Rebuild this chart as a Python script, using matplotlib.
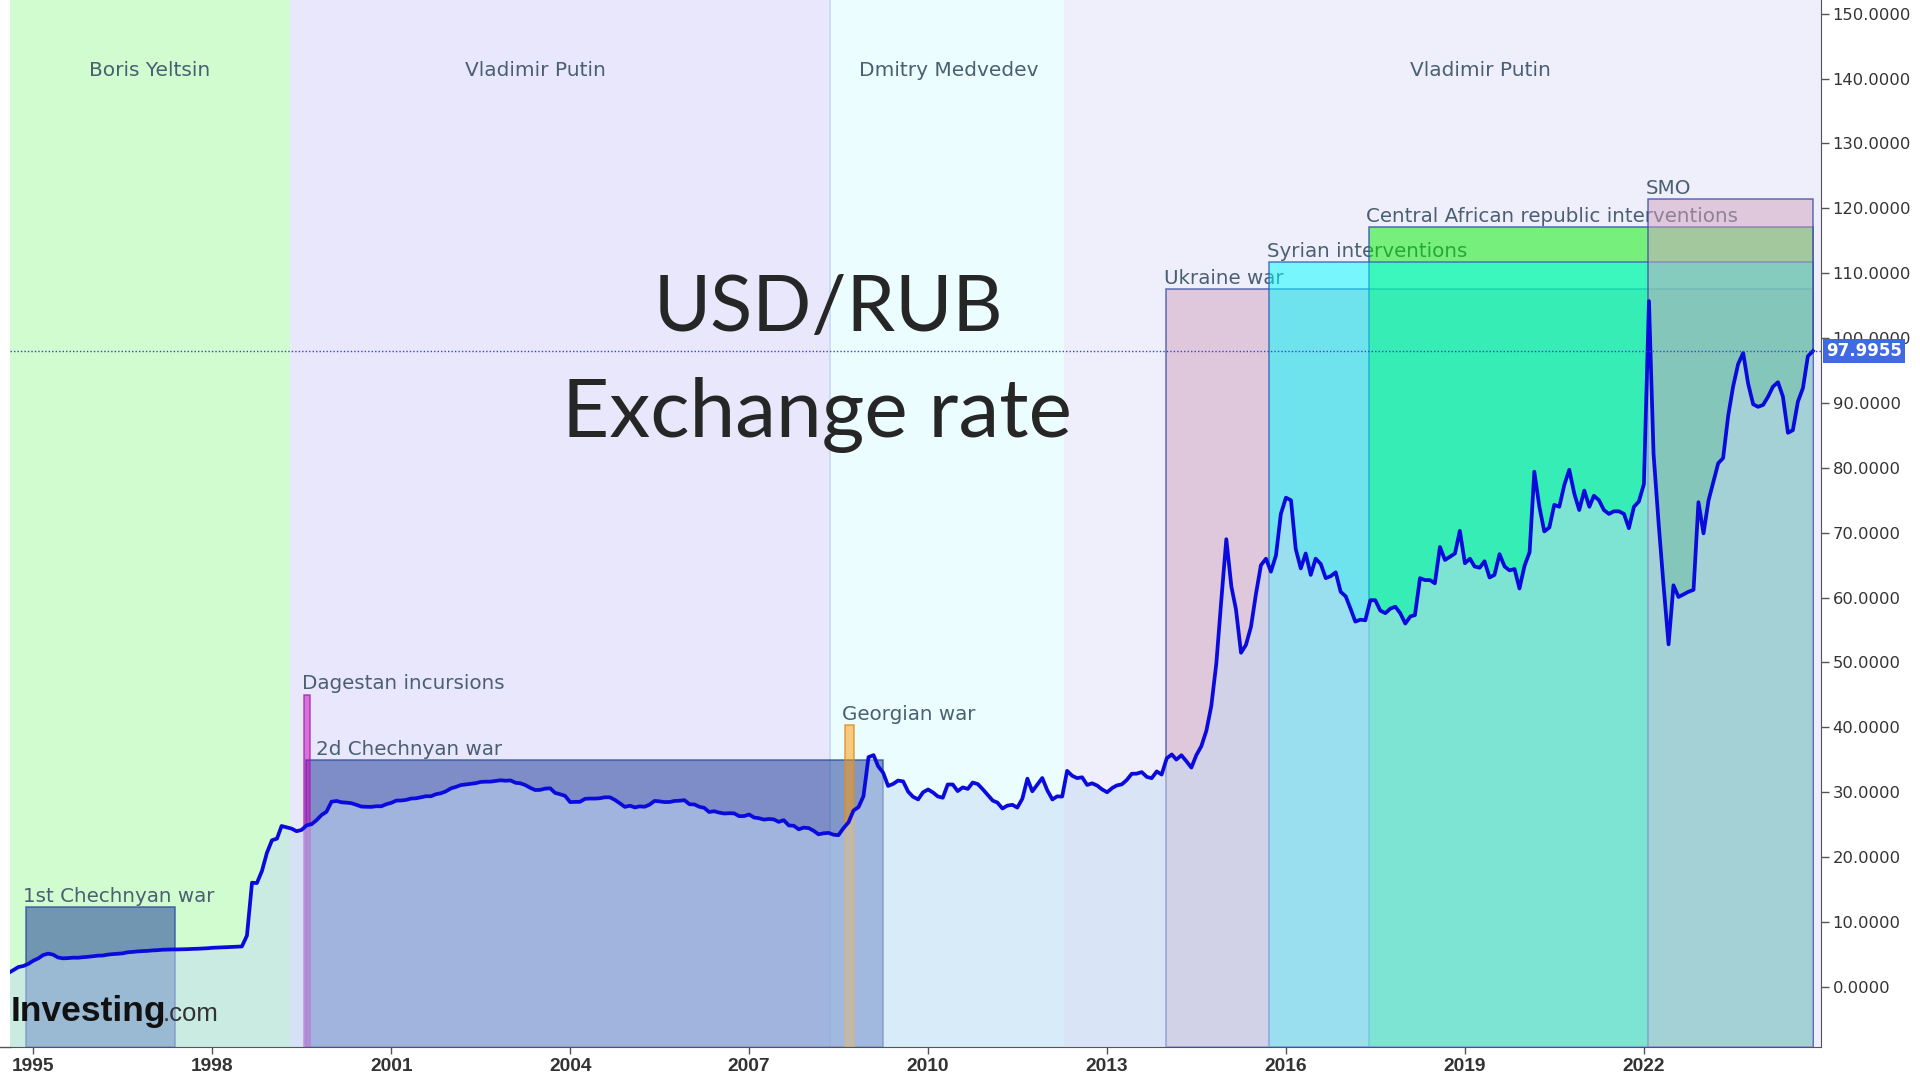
import pandas as pd
import matplotlib
matplotlib.use("Agg")
import matplotlib.pyplot as plt
import matplotlib.dates as mdates
from matplotlib.patches import Rectangle
from matplotlib.transforms import blended_transform_factory

# monthly USD/RUB closes, first value = Aug 1994
closes_1990s = [
    2.15, 2.60, 3.06, 3.23, 3.55,
    4.05, 4.41, 4.90, 5.13, 4.99, 4.54, 4.41, 4.44, 4.51, 4.50, 4.58, 4.64,
    4.73, 4.82, 4.84, 4.98, 5.06, 5.11, 5.18, 5.34, 5.40, 5.48, 5.52, 5.56,
    5.63, 5.67, 5.73, 5.76, 5.78, 5.78, 5.80, 5.82, 5.86, 5.88, 5.92, 5.96,
    6.03, 6.07, 6.11, 6.13, 6.16, 6.20, 6.24, 7.91, 16.06, 16.01, 17.88, 20.65,
    22.60, 22.86, 24.80, 24.60, 24.40, 24.00, 24.19, 24.90, 25.08, 25.70, 26.50, 27.00,
]
closes_2000s = [
    28.55, 28.66, 28.46, 28.40, 28.32, 28.07, 27.80, 27.76, 27.75, 27.85, 27.84, 28.16,
    28.37, 28.72, 28.73, 28.82, 29.03, 29.07, 29.23, 29.39, 29.39, 29.70, 29.85, 30.14,
    30.60, 30.83, 31.10, 31.20, 31.30, 31.40, 31.59, 31.63, 31.64, 31.74, 31.85, 31.78,
    31.82, 31.46, 31.39, 31.12, 30.69, 30.35, 30.37, 30.56, 30.61, 29.90, 29.69, 29.45,
    28.49, 28.52, 28.53, 28.99, 29.03, 29.03, 29.08, 29.23, 29.22, 28.82, 28.29, 27.75,
    27.93, 27.66, 27.83, 27.77, 28.09, 28.67, 28.60, 28.49, 28.50, 28.66, 28.70, 28.78,
    28.15, 28.12, 27.77, 27.60, 26.96, 27.08, 26.87, 26.73, 26.77, 26.75, 26.32, 26.33,
    26.57, 26.10, 26.01, 25.79, 25.88, 25.82, 25.44, 25.70, 24.89, 24.84, 24.29, 24.55,
    24.48, 24.05, 23.52, 23.68, 23.74, 23.46, 23.39, 24.48, 25.38, 27.18, 27.72, 29.38,
    35.42, 35.72, 34.01, 33.00, 30.98, 31.29, 31.80, 31.68, 30.09, 29.30, 28.90, 30.00,
]
closes_2010s = [
    30.43, 29.95, 29.36, 29.16, 31.20, 31.20, 30.18, 30.75, 30.52, 31.50, 31.27, 30.48,
    29.60, 28.71, 28.42, 27.50, 27.94, 28.07, 27.64, 29.00, 32.10, 30.15, 31.18, 32.20,
    30.29, 28.89, 29.37, 29.34, 33.30, 32.55, 32.18, 32.31, 31.13, 31.38, 31.04, 30.45,
    30.00, 30.65, 31.05, 31.22, 31.88, 32.85, 32.87, 33.11, 32.37, 32.17, 33.21, 32.73,
    35.23, 35.83, 35.04, 35.70, 34.80, 33.80, 35.70, 37.10, 39.50, 43.30, 49.90, 59.50,
    69.00, 61.70, 58.20, 51.50, 52.70, 55.50, 60.50, 65.00, 66.00, 64.00, 66.50, 72.90,
    75.40, 75.00, 67.50, 64.50, 66.80, 63.50, 66.00, 65.20, 63.00, 63.30, 63.90, 60.90,
    60.20, 58.20, 56.30, 56.60, 56.50, 59.60, 59.60, 58.00, 57.60, 58.30, 58.60, 57.60,
    56.00, 57.10, 57.30, 63.00, 62.70, 62.70, 62.20, 67.80, 65.80, 66.30, 66.80, 70.30,
    65.30, 66.00, 64.80, 64.60, 65.60, 63.10, 63.50, 66.70, 64.80, 64.20, 64.40, 61.40,
]
closes_2020s = [
    64.90, 67.00, 79.40, 74.00, 70.20, 70.80, 74.30, 74.00, 77.40, 79.70, 76.00, 73.50,
    76.50, 74.00, 75.70, 75.00, 73.50, 72.90, 73.30, 73.30, 72.90, 70.70, 74.00, 74.80,
    77.50, 105.70, 82.20, 71.50, 62.00, 52.80, 61.90, 60.10, 60.50, 60.90, 61.20, 74.70,
    69.90, 75.00, 77.70, 80.70, 81.50, 88.00, 92.50, 96.00, 97.70, 93.00, 89.80, 89.40,
    89.70, 91.00, 92.50, 93.20, 91.00, 85.40, 85.80, 90.20, 92.30, 97.20, 97.9955,
]
closes = closes_1990s + closes_2000s + closes_2010s + closes_2020s
dates = pd.date_range("1994-08-01", periods=len(closes), freq="MS")

presidents = ["Boris Yeltsin", "Vladimir Putin", "Dmitry Medvedev", "Vladimir Putin"]
term_starts = ["1994-08-11", "1999-04-22", "2008-05-10", "2012-04-13"]
term_ends = ["1999-04-22", "2008-05-10", "2012-04-13", "2024-12-20"]
term_label_at = ["1996-12-15", "2003-06-05", "2010-05-08", "2019-04-05"]
term_colors = ["#d0fcd0", "#e9e7fb", "#ebfdfe", "#efeefb"]

events = ["1st Chechnyan war", "2d Chechnyan war", "Dagestan incursions",
          "Georgian war", "Ukraine war", "Central African republic interventions",
          "Syrian interventions", "SMO"]
event_starts = ["1994-11-17", "1999-07-31", "1999-07-18", "2008-08-08",
                "2013-12-28", "2017-05-22", "2015-09-20", "2022-01-28"]
event_ends = ["1997-05-20", "2009-03-28", "1999-08-24", "2008-10-05",
              "2024-11-01", "2024-11-01", "2024-11-01", "2024-11-01"]
event_tops = [12.3, 34.9, 45.0, 40.3, 107.5, 117.1, 111.7, 121.4]
event_colors = ["#143296", "#143296", "#c000c0", "#ff9900",
                "#d1a2bf", "#00f000", "#00ffff", "#d1a2bf"]
event_edges = ["#2a4a9a", "#2a4a9a", "#b020a8", "#e08a20",
               "#3b4fa8", "#2850a0", "#3060b0", "#3b4fa8"]

y_bottom, y_top = -9.25, 152.1
label_color = "#4a6072"

fig = plt.figure(figsize=(19.2, 10.8), dpi=100)
ax = fig.add_axes([0.0052, 0.0306, 0.9432, 0.9694])
num = mdates.date2num

# president terms
for name, s, e, lx, c in zip(presidents, term_starts, term_ends, term_label_at, term_colors):
    ax.axvspan(pd.Timestamp(s), pd.Timestamp(e), color=c, lw=0, zorder=0)
    ax.text(pd.Timestamp(lx), 141.3, name, ha="center", va="center",
            fontsize=14.5, color=label_color, zorder=1)
ax.axvline(pd.Timestamp(term_starts[2]), color="#c4daf6", lw=1.2, zorder=0.5)

# event boxes, labels sit underneath the boxes
for i, (name, s, e, top, c, ec) in enumerate(zip(events, event_starts, event_ends,
                                                event_tops, event_colors, event_edges)):
    x0, x1 = num(pd.Timestamp(s)), num(pd.Timestamp(e))
    ax.add_patch(Rectangle((x0, y_bottom), x1 - x0, top - y_bottom, facecolor=c,
                           alpha=0.5, edgecolor="none", zorder=2 + i * 0.1))
    ax.add_patch(Rectangle((x0, y_bottom), x1 - x0, top - y_bottom, facecolor="none",
                           edgecolor=ec, lw=1.1, alpha=0.8, zorder=2 + i * 0.1))
    dx = 7 if name == "2d Chechnyan war" else -1.8
    ax.annotate(name, (x0, top), xytext=(dx, 4), textcoords="offset points",
                ha="left", va="baseline", fontsize=14.3, color=label_color, zorder=1.5)

# price area and line
ax.fill_between(dates, closes, y_bottom, color="#c4dcf3", alpha=0.5, lw=0, zorder=3)
ax.plot(dates, closes, color="#0a0adc", lw=2.7, zorder=4, solid_joinstyle="round")

last = closes[-1]
ax.axhline(last, color="#3344cc", lw=1, ls=(0, (1, 1.5)), zorder=6)
trans = blended_transform_factory(ax.transAxes, ax.transData)
ax.text(1.0029, last, f"{last:.4f}", transform=trans, ha="left", va="center",
        color="white", fontsize=12, fontweight="bold", clip_on=False, zorder=10,
        bbox=dict(boxstyle="square,pad=0.2", fc="#4169e1", ec="none"))

# title
ax.text(0.4517, 0.704, "USD/RUB", transform=ax.transAxes, ha="center", va="center",
        fontsize=56, family="Lato", color="#262626", zorder=7)
ax.text(0.4456, 0.604, "Exchange rate", transform=ax.transAxes, ha="center",
        va="center", fontsize=59, family="Lato", color="#262626", zorder=7)

# axes
ax.set_xlim(pd.Timestamp("1994-08-11"), pd.Timestamp("2024-12-20"))
ax.set_ylim(y_bottom, y_top)
years = list(range(1995, 2023, 3))
ax.set_xticks([pd.Timestamp(f"{y}-01-01") for y in years])
ax.set_xticklabels([str(y) for y in years], fontweight="bold", family="Liberation Sans")
ax.yaxis.tick_right()
ax.set_yticks(range(0, 151, 10))
ax.set_yticklabels([f"{v:.4f}" for v in range(0, 151, 10)])
ax.tick_params(axis="x", direction="out", length=5, width=1, colors="#555555",
               labelcolor="#333333", labelsize=13.8, pad=3)
ax.tick_params(axis="y", direction="out", length=6, width=1, colors="#555555",
               labelcolor="#333333", labelsize=11.8, pad=2.5)
for side in ["left", "top"]:
    ax.spines[side].set_visible(False)
for side in ["right", "bottom"]:
    ax.spines[side].set_color("#555555")
    ax.spines[side].set_zorder(8)
fig.add_artist(plt.Line2D([0, 0.0052], [0.0306, 0.0306], color="#555555", lw=1))

# logo
fig.text(0.0055, 0.0549, "Investing", fontsize=25.5, fontweight="bold",
         family="Liberation Sans", color="#111111", va="baseline")
fig.text(0.0849, 0.0549, ".com", fontsize=18.5, family="Liberation Sans",
         color="#333333", va="baseline")

fig.savefig("out.png", dpi=100)
